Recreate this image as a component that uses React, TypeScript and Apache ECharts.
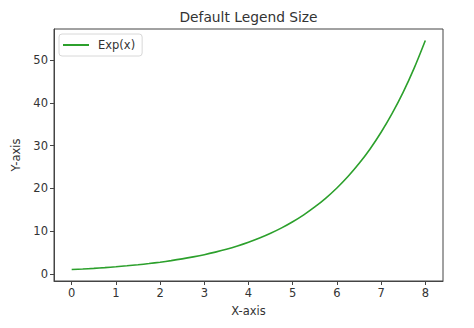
import React, { useEffect, useRef } from "react";
import * as echarts from "echarts";

const xValues = [0, 0.25, 0.5, 0.75, 1, 1.25, 1.5, 1.75, 2, 2.25, 2.5, 2.75, 3, 3.25, 3.5, 3.75, 4, 4.25, 4.5, 4.75, 5, 5.25, 5.5, 5.75, 6, 6.25, 6.5, 6.75, 7, 7.25, 7.5, 7.75, 8];
const yValues = [1.0, 1.13, 1.28, 1.45, 1.65, 1.87, 2.12, 2.4, 2.72, 3.08, 3.49, 3.96, 4.48, 5.08, 5.75, 6.52, 7.39, 8.37, 9.49, 10.75, 12.18, 13.8, 15.64, 17.73, 20.09, 22.76, 25.79, 29.22, 33.12, 37.53, 42.52, 48.19, 54.6];
const xTicks = [0, 1, 2, 3, 4, 5, 6, 7, 8];
const yTicks = [0, 10, 20, 30, 40, 50];
const seriesName = "Exp(x)";
const titleText = "Default Legend Size";
const xName = "X-axis";
const yName = "Y-axis";

const FONT = "DejaVu Sans";
const AXIS = "#444";
const TEXT = "#333";

export default function App() {
  const ref = useRef<HTMLDivElement>(null);
  useEffect(() => {
    const chart = echarts.init(ref.current!, null, { renderer: "svg" });
    chart.setOption({
      animation: false,
      backgroundColor: "#fff",
      textStyle: { fontFamily: FONT },
      graphic: [
        {
          type: "text",
          x: 248.5,
          y: 17,
          style: {
            text: titleText,
            fontFamily: FONT,
            fontSize: 13.8,
            fill: TEXT,
            align: "center",
            verticalAlign: "middle",
          },
        },
      ],
      legend: {
        left: 59,
        top: 34,
        orient: "vertical",
        padding: [5, 7, 5, 4],
        backgroundColor: "#fff",
        borderColor: "#d8d8d8",
        borderWidth: 1,
        borderRadius: 3,
        itemWidth: 26,
        itemHeight: 2,
        icon: "rect",
        textStyle: { fontFamily: FONT, fontSize: 11.5, color: TEXT, padding: [0, 0, 0, 4] },
        data: [{ name: seriesName, icon: "rect" }],
      },
      grid: {
        left: 54,
        top: 29,
        width: 389,
        height: 252,
        show: true,
        borderColor: AXIS,
        borderWidth: 1,
        backgroundColor: "transparent",
      },
      xAxis: {
        type: "value",
        min: -0.4,
        max: 8.4,
        name: xName,
        nameLocation: "middle",
        nameGap: 24,
        nameTextStyle: { fontFamily: FONT, fontSize: 11.5, color: TEXT },
        axisLine: { show: true, onZero: false, lineStyle: { color: AXIS } },
        axisTick: { show: true, length: 4, lineStyle: { color: AXIS }, customValues: xTicks },
        axisLabel: { fontFamily: FONT, fontSize: 11.5, color: TEXT, margin: 6, customValues: xTicks },
        splitLine: { show: false },
      },
      yAxis: {
        type: "value",
        min: -1.68,
        max: 57.28,
        name: yName,
        nameLocation: "middle",
        nameGap: 30,
        nameRotate: 90,
        nameTextStyle: { fontFamily: FONT, fontSize: 11.5, color: TEXT },
        axisLine: { show: true, onZero: false, lineStyle: { color: AXIS } },
        axisTick: { show: true, length: 4, lineStyle: { color: AXIS }, customValues: yTicks },
        axisLabel: { fontFamily: FONT, fontSize: 11.5, color: TEXT, margin: 6, customValues: yTicks },
        splitLine: { show: false },
      },
      series: [
        {
          name: seriesName,
          type: "line",
          smooth: 0.3,
          showSymbol: false,
          symbol: "none",
          data: xValues.map((x, i) => [x, yValues[i]]),
          lineStyle: { color: "#2ca02c", width: 1.6 },
          itemStyle: { color: "#2ca02c" },
        },
      ],
    });
    return () => chart.dispose();
  }, []);
  return (
    <div
      ref={ref}
      style={{ position: "fixed", left: 0, top: 0, width: 474, height: 328, background: "#fff" }}
    />
  );
}
